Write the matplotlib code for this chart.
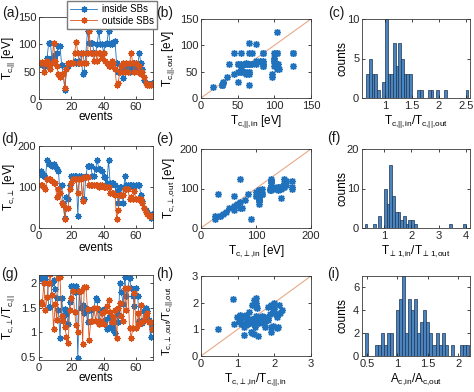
import numpy as np
import matplotlib
matplotlib.use("Agg")
import matplotlib.pyplot as plt

plt.rcParams['font.family'] = ['Liberation Sans', 'DejaVu Sans']
plt.rcParams['mathtext.default'] = 'regular'

# T_c,|| inside / outside switchbacks [eV], events 1..70
par_in = [65, 62, 65, 60, 75, 103, 103, 75, 75, 80,
          85, 97, 97, 62, 45, 17, 55, 60, 65, 65,
          65, 70, 65, 65, 70, 85, 45, 50, 85, 125,
          103, 103, 103, 85, 85, 100, 125, 100, 100, 85,
          100, 103, 125, 100, 100, 105, 107, 65, 50, 50,
          55, 38, 60, 60, 55, 50, 55, 60, 65, 55,
          60, 85, 65, 55, 35, 30, 28, 28, 28, 30]
par_out = [65, 67, 50, 65, 70, 60, 55, 65, 103, 70,
           60, 45, 40, 45, 45, 20, 55, 65, 65, 65,
           65, 85, 105, 85, 65, 65, 85, 65, 65, 85,
           125, 85, 85, 70, 85, 70, 85, 85, 75, 85,
           70, 65, 60, 60, 70, 65, 55, 25, 30, 50,
           60, 65, 50, 65, 50, 65, 85, 65, 50, 65,
           50, 60, 45, 50, 40, 30, 25, 25, 25, 28]

# T_c,perp inside / outside [eV]
perp_in = [140, 130, 130, 125, 165, 155, 155, 150, 155, 150,
           145, 140, 85, 105, 60, 25, 75, 70, 105, 127,
           127, 127, 127, 30, 127, 127, 70, 70, 127, 150,
           150, 150, 127, 127, 145, 165, 145, 145, 140, 125,
           125, 110, 165, 110, 110, 110, 105, 90, 60, 100,
           100, 60, 128, 105, 105, 105, 105, 105, 100, 105,
           105, 105, 80, 65, 50, 45, 40, 35, 25, 35]
perp_out = [105, 105, 100, 95, 120, 120, 120, 115, 110, 110,
            75, 95, 85, 60, 55, 22, 50, 50, 95, 110,
            120, 120, 120, 85, 120, 120, 65, 125, 125, 125,
            105, 105, 105, 105, 105, 105, 100, 105, 105, 100,
            100, 100, 100, 85, 85, 85, 80, 22, 45, 80,
            80, 80, 95, 95, 95, 70, 75, 70, 90, 70,
            70, 70, 70, 60, 50, 40, 35, 30, 30, 30]

# histogram counts (bin centres, counts)
c_centers = [0.673, 0.723, 0.773, 0.823, 0.873, 0.973, 1.023, 1.073, 1.123, 1.173,
             1.223, 1.273, 1.323, 1.373, 1.423, 1.473, 1.623, 1.673, 1.823, 1.873,
             1.973, 2.123, 2.523]
c_counts = [3, 5, 3, 3, 1, 2, 10, 3, 3, 7, 4, 7, 5, 3, 3, 3, 1, 1, 1, 1, 1, 1, 1]

f_centers = [0.35, 0.65, 0.85, 1.05, 1.15, 1.25, 1.35, 1.45, 1.55, 1.65,
             1.75, 1.85, 1.95, 2.05, 2.15, 3.45, 3.95]
f_counts = [1, 1, 3, 10, 6, 16, 8, 4, 4, 2, 3, 1, 2, 2, 1, 1, 1]

i_centers = [0.5, 0.65, 0.7, 0.75, 0.8, 0.85, 0.9, 1.0, 1.05, 1.1,
             1.15, 1.2, 1.25, 1.3, 1.35, 1.4, 1.45, 1.5, 1.55, 1.6,
             1.65, 1.7, 1.75, 1.8, 1.9, 2.05, 2.1, 2.15]
i_counts = [2, 1, 1, 2, 1, 2, 2, 4, 5, 7, 2, 5, 4, 5, 2, 3, 4, 3, 2, 1,
            2, 1, 2, 1, 1, 1, 1, 1]

par_in = np.array(par_in, float)
par_out = np.array(par_out, float)
perp_in = np.array(perp_in, float)
perp_out = np.array(perp_out, float)
events = np.arange(1, len(par_in) + 1)
ratio_in = perp_in / par_in
ratio_out = perp_out / par_out

BLUE = '#1f72bb'
ORANGE = '#d95319'
DIAG = '#e9a888'
BARFC = '#4a84bf'
BAREC = '#1d3452'
AST = (8, 2, 0)
LFS = 8.5

W, H = 474, 392
fig = plt.figure(figsize=(W / 100, H / 100), dpi=100)


def box(l, t, r, b):
    return fig.add_axes([l / W, 1 - b / H, (r - l) / W, (b - t) / H])


def style(ax, xl_top, yl_right, yl_mid=0.5):
    ax.tick_params(direction='in', length=2.5, width=0.6, colors='#262626',
                   labelsize=8, top=True, right=True, pad=2)
    for s in ax.spines.values():
        s.set_color('#3a3a3a')
        s.set_linewidth(0.6)
    l, b, w, h = ax.get_position().bounds
    ax.yaxis.set_label_coords((yl_right / W - l) / w, yl_mid)
    ax.xaxis.set_label_coords(0.5, ((1 - xl_top / H) - b) / h)


def series(ax, a, b):
    ax.plot(events, a, '-', color=BLUE, lw=0.6, marker=AST, ms=4.5, mew=0.9,
            label='inside SBs')
    ax.plot(events, b, '-', color=ORANGE, lw=0.6, marker=AST, ms=4.5, mew=0.9,
            label='outside SBs')
    ax.set_xlim(0, 70.5)
    ax.set_xticks([0, 20, 40, 60])
    ax.set_xlabel('events', fontsize=LFS)


def scatter(ax, x, y, lim, ticks):
    ax.axline((0, 0), slope=1, color=DIAG, lw=0.8, zorder=1)
    ax.plot(x, y, ls='none', color=BLUE, marker=AST, ms=5, mew=1.0, zorder=2)
    ax.set_xlim(0, lim)
    ax.set_ylim(0, lim)
    ax.set_xticks(ticks)
    ax.set_yticks(ticks)


def hist(ax, centers, counts, width):
    ax.bar(centers, counts, width=width, color=BARFC, edgecolor=BAREC, linewidth=0.5)
    ax.set_ylabel('counts', fontsize=LFS)


# row 1
ax = box(39, 17, 153, 99)
series(ax, par_in, par_out)
ax.set_ylim(0, 150)
ax.set_yticks([0, 50, 100, 150])
ax.set_ylabel('T$_{c{,}||}$ [eV]', fontsize=LFS)
style(ax, 111, 17)
ax.legend(loc='upper left', bbox_to_anchor=(67 / W, 1 - 1 / H), bbox_transform=fig.transFigure,
          fontsize=7, frameon=True, fancybox=False, edgecolor='#7a7a7a', framealpha=1,
          borderpad=0.3, labelspacing=0.2, handlelength=2.8, handletextpad=0.5,
          borderaxespad=0)

ax = box(201, 19, 311, 98)
scatter(ax, par_in, par_out, 150, [0, 50, 100, 150])
ax.set_xlabel('T$_{c{,}||{,}in}$ [eV]', fontsize=LFS)
ax.set_ylabel('T$_{c{,}||{,}out}$ [eV]', fontsize=LFS)
style(ax, 113, 177)

ax = box(362, 19, 470, 98)
hist(ax, c_centers, c_counts, 0.05)
ax.set_xlim(0.57, 2.58)
ax.set_ylim(0, 10)
ax.set_xticks([1, 1.5, 2, 2.5])
ax.set_xticklabels(['1', '1.5', '2', '2.5'])
ax.set_yticks([0, 5, 10])
ax.set_xlabel('T$_{c{,}||{,}in}$/T$_{c{,}||{,}out}$', fontsize=LFS)
style(ax, 113, 348)

# row 2
ax = box(39, 146, 153, 228)
series(ax, perp_in, perp_out)
ax.set_ylim(0, 200)
ax.set_yticks([0, 100, 200])
ax.set_ylabel('T$_{c{,}\\perp}$ [eV]', fontsize=LFS)
style(ax, 242, 17)

ax = box(201, 149, 311, 228)
scatter(ax, perp_in, perp_out, 200, [0, 100, 200])
ax.set_xlabel('T$_{c{,}\\perp{,}in}$ [eV]', fontsize=LFS)
ax.set_ylabel('T$_{c{,}\\perp{,}out}$ [eV]', fontsize=LFS)
style(ax, 243, 177)

ax = box(362, 149, 470, 228)
hist(ax, f_centers, f_counts, 0.1)
ax.set_xlim(0.2, 4.15)
ax.set_ylim(0, 20)
ax.set_xticks([1, 2, 3, 4])
ax.set_yticks([0, 10, 20])
ax.set_xlabel('T$_{\\perp 1{,}in}$/T$_{\\perp 1{,}out}$', fontsize=LFS)
style(ax, 243, 348)

# row 3
ax = box(39, 275, 153, 360)
series(ax, ratio_in, ratio_out)
ax.set_ylim(0.43, 2.17)
ax.set_yticks([0.5, 1, 1.5, 2])
ax.set_yticklabels(['0.5', '1', '1.5', '2'])
ax.set_ylabel('T$_{c{,}\\perp}$/T$_{c{,}||}$', fontsize=LFS)
style(ax, 372, 17)

ax = box(201, 276, 311, 356)
scatter(ax, ratio_in, ratio_out, 3, [0, 1, 2, 3])
ax.set_xlabel('T$_{c{,}\\perp{,}in}$/T$_{c{,}||{,}in}$', fontsize=LFS)
ax.set_ylabel('T$_{c{,}\\perp{,}out}$/T$_{c{,}||{,}out}$', fontsize=8)
style(ax, 371, 177, 0.44)

ax = box(362, 276, 470, 356)
hist(ax, i_centers, i_counts, 0.05)
ax.set_xlim(0.42, 2.19)
ax.set_ylim(0, 7)
ax.set_xticks([0.5, 1, 1.5, 2])
ax.set_xticklabels(['0.5', '1', '1.5', '2'])
ax.set_yticks([0, 2, 4, 6])
ax.set_xlabel('A$_{c{,}in}$/A$_{c{,}out}$', fontsize=LFS)
style(ax, 371, 348)

# panel letters
for lab, x, y in [('(a)', 11, 13), ('(b)', 165, 13), ('(c)', 336, 13),
                  ('(d)', 10, 139), ('(e)', 165, 139), ('(f)', 334, 138),
                  ('(g)', 10, 274), ('(h)', 165, 274), ('(i)', 333, 274)]:
    fig.text(x / W, 1 - y / H, lab, fontsize=10, ha='center', va='center', color='#1a1a1a')

fig.savefig('out.png', dpi=100)
